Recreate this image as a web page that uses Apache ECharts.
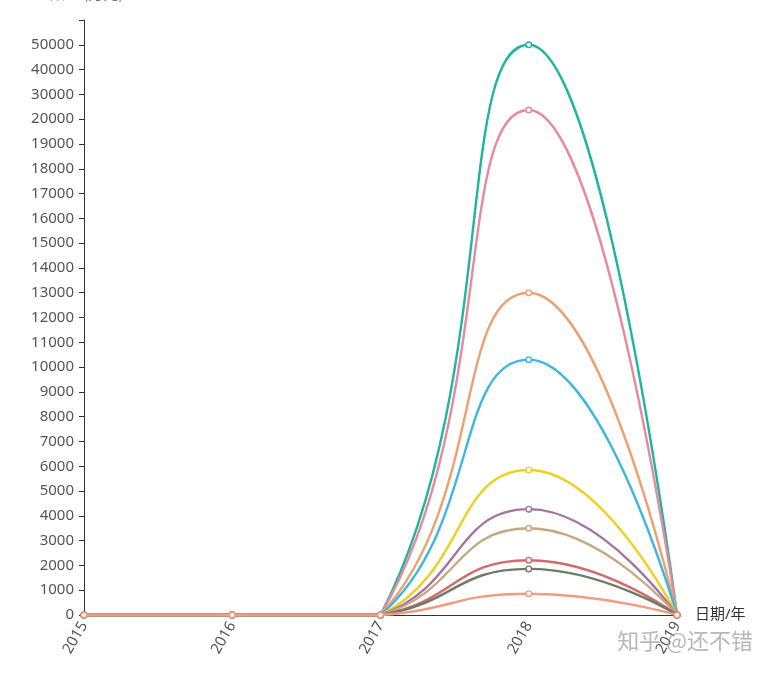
<!DOCTYPE html>
<html>
<head>
<meta charset="utf-8">
<script src="https://cdn.jsdelivr.net/npm/echarts@6/dist/echarts.min.js"></script>
<style>html,body{margin:0;padding:0;background:#fff}#c{width:773px;height:673px}</style>
</head>
<body>
<div id="c"></div>
<script>
var years = ['2015', '2016', '2017', '2018', '2019'];
var yTickLabels = ['0','1000','2000','3000','4000','5000','6000','7000','8000','9000','10000',
  '11000','12000','13000','14000','15000','16000','17000','18000','19000','20000','30000','40000','50000'];
var yAxisName = '数量 (万元)';
var seriesNames = ['A', 'B', 'C', 'D', 'E', 'F', 'G', 'H', 'I', 'J'];
var colors = ['#1fb5a0', '#e8899c', '#eea070', '#3bb7e0', '#f0cf1e', '#a4749c', '#c8a882', '#d36a6a', '#6f7a68', '#f09c80'];
var sA = [0, 0, 0, 50000, 0];
var sB = [0, 0, 0, 23700, 0];
var sC = [0, 0, 0, 13000, 0];
var sD = [0, 0, 0, 10300, 0];
var sE = [0, 0, 0, 5850, 0];
var sF = [0, 0, 0, 4270, 0];
var sG = [0, 0, 0, 3500, 0];
var sH = [0, 0, 0, 2210, 0];
var sI = [0, 0, 0, 1860, 0];
var sJ = [0, 0, 0, 860, 0];
var allSeries = [sA, sB, sC, sD, sE, sF, sG, sH, sI, sJ];

// the original y axis is non-linear: equal steps between its tick values
var tickValues = yTickLabels.map(Number);
function toAxis(v) {
  for (var i = 1; i < tickValues.length; i++) {
    if (v <= tickValues[i]) {
      return (i - 1) + (v - tickValues[i - 1]) / (tickValues[i] - tickValues[i - 1]);
    }
  }
  return tickValues.length - 1;
}

function dist(a, b) { var dx = a[0] - b[0], dy = a[1] - b[1]; return Math.sqrt(dx * dx + dy * dy); }
function clamp(p, mn, mx) {
  return [Math.max(mn[0], Math.min(mx[0], p[0])), Math.max(mn[1], Math.min(mx[1], p[1]))];
}

// smooth line drawn like the classic (v4) ECharts smoothing, positions from api.coord
function makeSeries(arr, i) {
  var pts = arr.map(function (v, k) { return [k, toAxis(v)]; });
  var color = colors[i];
  return {
    name: seriesNames[i],
    type: 'custom',
    coordinateSystem: 'cartesian2d',
    data: pts,
    encode: { x: 0, y: 1 },
    z: 2 + i,
    renderItem: function (params, api) {
      if (params.dataIndex !== 0) return null;
      var P = pts.map(function (p) { return api.coord(p); });
      var mn = [Infinity, Infinity], mx = [-Infinity, -Infinity];
      P.forEach(function (p) {
        mn[0] = Math.min(mn[0], p[0]); mn[1] = Math.min(mn[1], p[1]);
        mx[0] = Math.max(mx[0], p[0]); mx[1] = Math.max(mx[1], p[1]);
      });
      var smooth = 0.5;
      var children = [];
      var cp0 = P[0].slice();
      for (var k = 1; k < P.length; k++) {
        var p = P[k], prev = P[k - 1], next = P[k + 1];
        var cp1, ratio = 0.5, v = null;
        if (!next) {
          cp1 = p.slice();
        } else {
          v = [next[0] - prev[0], next[1] - prev[1]];
          var lp = dist(p, prev), ln = dist(p, next);
          ratio = ln / (ln + lp);
          cp1 = [p[0] - smooth * (1 - ratio) * v[0], p[1] - smooth * (1 - ratio) * v[1]];
        }
        cp0 = clamp(cp0, mn, mx);
        cp1 = clamp(cp1, mn, mx);
        children.push({
          type: 'bezierCurve',
          shape: { x1: prev[0], y1: prev[1], x2: p[0], y2: p[1], cpx1: cp0[0], cpy1: cp0[1], cpx2: cp1[0], cpy2: cp1[1] },
          style: { stroke: color, lineWidth: 2.4, fill: null }
        });
        if (v) cp0 = [p[0] + smooth * ratio * v[0], p[1] + smooth * ratio * v[1]];
      }
      P.forEach(function (p) {
        children.push({
          type: 'circle',
          z2: 10,
          shape: { cx: p[0], cy: p[1], r: 2.8 },
          style: { fill: '#fff', stroke: color, lineWidth: 1.4 }
        });
      });
      return { type: 'group', children: children };
    }
  };
}

var chart = echarts.init(document.getElementById('c'));
var FONT = '"Noto Sans", "Noto Sans CJK SC", sans-serif';
chart.setOption({
  animation: false,
  grid: { left: 84, right: 96, top: 20, bottom: 58, containLabel: false, outerBoundsMode: 'none' },
  xAxis: {
    type: 'value',
    min: 0,
    max: years.length - 1,
    interval: 1,
    name: '日期/年',
    nameGap: 18,
    nameTextStyle: { color: '#333', fontSize: 15, fontFamily: FONT },
    splitLine: { show: false },
    axisLine: { lineStyle: { color: '#333' } },
    axisTick: { show: false },
    axisLabel: {
      rotate: 60, color: '#555', fontSize: 15, fontFamily: FONT, margin: 8,
      formatter: function (v) { return years[Math.round(v)] || ''; }
    }
  },
  yAxis: {
    type: 'value',
    min: 0,
    max: 24,
    interval: 1,
    splitLine: { show: false },
    axisLine: { show: true, lineStyle: { color: '#333' } },
    axisTick: { show: true, length: 5 },
    axisLabel: {
      color: '#555', fontSize: 15, fontFamily: FONT, margin: 10,
      formatter: function (v) { return yTickLabels[Math.round(v)] || ''; }
    }
  },
  series: allSeries.map(makeSeries),
  graphic: [{
    type: 'text',
    left: 50,
    top: -14,
    style: { text: yAxisName, fill: '#777', font: '15px "Noto Sans CJK SC", sans-serif' }
  }, {
    type: 'text',
    right: 20,
    top: 630,
    z: 100,
    style: { text: '知乎 @还不错', fill: 'rgba(160,160,160,0.75)', font: '22px "Noto Sans CJK SC", sans-serif' }
  }]
});
</script>
</body>
</html>
